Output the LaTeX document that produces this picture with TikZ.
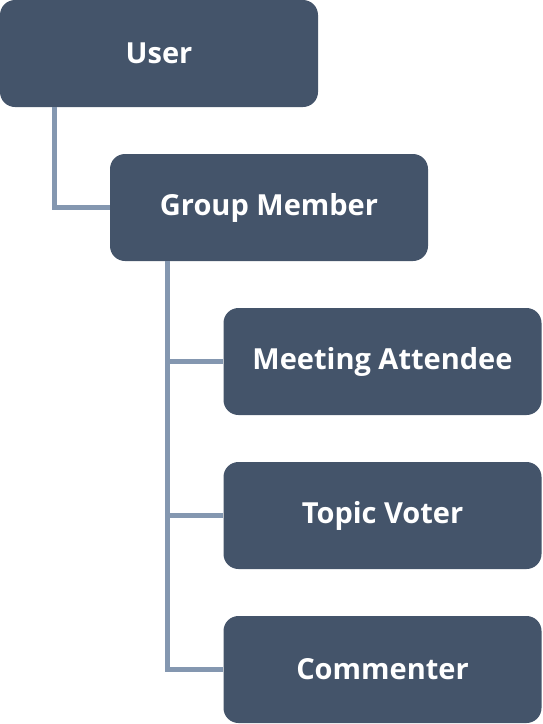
\documentclass[tikz,border=0pt]{standalone}
\usepackage{fontspec}
\setmainfont{Open Sans}
\usetikzlibrary{positioning}
\definecolor{roleblue}{HTML}{44546A}
\definecolor{linkblue}{HTML}{8497B0}

\begin{document}
\begin{tikzpicture}[x=1pt, y=-1pt,
    role/.style={rectangle, rounded corners=15pt, fill=roleblue, text=white,
      font=\bfseries\fontsize{29}{34}\selectfont, inner sep=0pt,
      minimum width=318pt, minimum height=107pt},
    link/.style={draw=linkblue, line width=5pt},
    ]
  \useasboundingbox (0,0) rectangle (542,724);

  % roles
  \node[role] (user) at (159,53.5) {User};
  \node[role] (member) at (269,207.5) {Group Member};
  \node[role] (attendee) at (382.5,361.5) {Meeting Attendee};
  \node[role] (voter) at (382.5,515.5) {Topic Voter};
  \node[role] (commenter) at (382.5,669.5) {Commenter};

  % links
  \coordinate (usertrunk) at ([xshift=-104.5pt]user.south);
  \coordinate (membertrunk) at ([xshift=-101.5pt]member.south);
  \draw[link] (usertrunk) |- (member.west);
  \draw[link] (membertrunk) |- (commenter.west);
  \draw[link] (attendee.west -| membertrunk) -- (attendee.west);
  \draw[link] (voter.west -| membertrunk) -- (voter.west);

\end{tikzpicture}
\end{document}
